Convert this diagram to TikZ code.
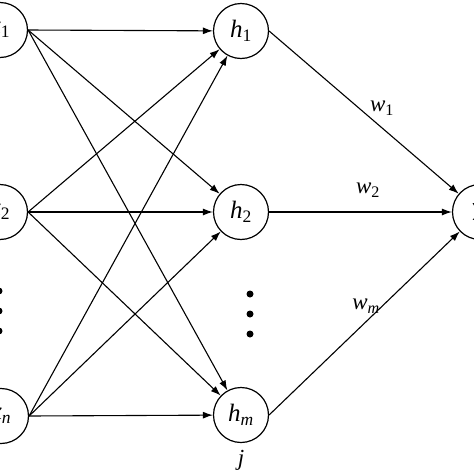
\documentclass[tikz,border=0pt]{standalone}
\usepackage{fontspec}
\setmainfont{Liberation Serif}
\usetikzlibrary{arrows.meta}
\newcommand\lab[2]{\textit{#1}\textsubscript{#2}}
\begin{document}
\begin{tikzpicture}[x=1pt,y=-1pt,
  neuron/.style={circle,draw,line width=1.2pt,minimum size=55pt,inner sep=0pt,font=\fontsize{25}{28}\selectfont},
  conn/.style={line width=1.1pt,-{Latex[length=10pt,width=7pt]}},
  wlab/.style={font=\fontsize{23}{26}\selectfont},
  dot/.style={circle,fill,inner sep=0pt,minimum size=7pt}]
\useasboundingbox (0,0) rectangle (474,474);
\clip (0,0) rectangle (474,474);
\node[neuron] (x1) at (0,30) {\lab{x}{1}};
\node[neuron] (x2) at (0,212) {\lab{x}{2}};
\node[neuron] (xn) at (1,416) {\lab{x}{\textit{n}}};
\node[neuron] (h1) at (241,31) {\lab{h}{1}};
\node[neuron] (h2) at (241,212) {\lab{h}{2}};
\node[neuron] (hm) at (241,415) {\lab{h}{\textit{m}}};
\node[neuron] (s) at (480,212) {$\Sigma$};
\foreach \i in {x1,x2,xn}{
  \foreach \j in {h1,h2,hm}{
    \draw[conn] (\i.east) -- (\j);
  }
}
\draw[conn] (h1.east) -- (s);
\draw[conn] (h2.east) -- (s);
\draw[conn] (hm.east) -- (s);
\node[wlab] (w1) at (382,108) {\lab{w}{1}};
\node[wlab] (w2) at (368,190) {\lab{w}{2}};
\node[wlab] (wm) at (366,306) {\lab{w}{\textit{m}}};
\node[dot] (d1) at (250,294) {};
\node[dot] (d2) at (250,314) {};
\node[dot] (d3) at (250,334) {};
\node[dot] (e1) at (-1,291) {};
\node[dot] (e2) at (-1,311) {};
\node[dot] (e3) at (-1,331) {};
\node[wlab] (j) at (241,460) {\textit{j}};
\node[wlab] (i) at (-4,458) {\textit{i}};
\end{tikzpicture}
\end{document}
